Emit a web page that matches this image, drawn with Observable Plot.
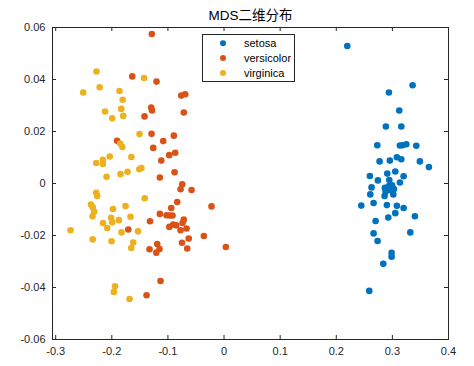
<!DOCTYPE html>
<html><head><meta charset="utf-8">
<script src="https://cdn.jsdelivr.net/npm/d3@7"></script>
<script src="https://cdn.jsdelivr.net/npm/@observablehq/plot@0.6"></script>
<style>body{margin:0;background:#fff}</style>
</head><body><div id="chart"></div>
<script>
const title = "MDS二维分布";
const species = ["setosa", "versicolor", "virginica"];
const colors = ["#0072BD", "#D95319", "#EDB120"];
const xTicks = [-0.3, -0.2, -0.1, 0, 0.1, 0.2, 0.3, 0.4];
const yTicks = [-0.06, -0.04, -0.02, 0, 0.02, 0.04, 0.06];

const setosaX = [0.2196,0.3360,0.2938,0.3123,0.2884,0.3159,0.2731,0.3134,0.3182,0.3248,0.3426,0.2772,0.2955,0.3080,0.3159,0.3490,0.3651,0.2599,0.2909,0.3052,0.3200,0.2742,0.2945,0.3134,0.2629,0.2866,0.2938,0.2995,0.3027,0.2879,0.2968,0.3016,0.2861,0.2606,0.2446,0.2665,0.2902,0.3080,0.3200,0.3052,0.2927,0.3401,0.2701,0.2665,0.3319,0.2736,0.2986,0.2986,0.2838,0.2588];
const setosaY = [0.0529,0.0378,0.0350,0.0281,0.0219,0.0219,0.0147,0.0146,0.0147,0.0151,0.0145,0.0085,0.0088,0.0101,0.0093,0.0085,0.0063,0.0029,0.0038,0.0046,0.0028,0.0012,0.0013,0.0004,-0.0015,-0.0017,-0.0010,-0.0007,-0.0021,-0.0032,-0.0026,-0.0042,-0.0048,-0.0042,-0.0085,-0.0075,-0.0083,-0.0086,-0.0094,-0.0114,-0.0131,-0.0126,-0.0144,-0.0192,-0.0188,-0.0221,-0.0267,-0.0282,-0.0309,-0.0413];

const versicolorX = [-0.1287,-0.1636,-0.1203,-0.0763,-0.0692,-0.1298,-0.1283,-0.1417,-0.0717,-0.1292,-0.0895,-0.1084,-0.1262,-0.0977,-0.0870,-0.1118,-0.1907,-0.0882,-0.1144,-0.0745,-0.0775,-0.0579,-0.0834,-0.0941,-0.0223,-0.1144,-0.1025,-0.0966,-0.0918,-0.1319,-0.0717,-0.0740,-0.0975,-0.0906,-0.0852,-0.0775,-0.0668,-0.0360,-0.0629,-0.0749,-0.0656,0.0032,-0.1191,-0.1150,-0.1207,-0.1328,-0.1706,-0.1132,-0.1381];
const versicolorY = [0.0575,0.0412,0.0392,0.0338,0.0343,0.0292,0.0281,0.0258,0.0273,0.0191,0.0184,0.0163,0.0137,0.0109,0.0118,0.0088,0.0164,0.0043,0.0023,-0.0003,-0.0022,-0.0025,-0.0071,-0.0094,-0.0088,-0.0117,-0.0122,-0.0123,-0.0123,-0.0145,-0.0139,-0.0152,-0.0167,-0.0158,-0.0161,-0.0180,-0.0173,-0.0202,-0.0212,-0.0228,-0.0250,-0.0244,-0.0233,-0.0252,-0.0266,-0.0253,-0.0177,-0.0375,-0.0430];

const virginicaX = [-0.2273,-0.1426,-0.2510,-0.2216,-0.1863,-0.1806,-0.2121,-0.1832,-0.1993,-0.1797,-0.1506,-0.1850,-0.1813,-0.2037,-0.1652,-0.2278,-0.2160,-0.2160,-0.1474,-0.1510,-0.1720,-0.1845,-0.2094,-0.2278,-0.2260,-0.1414,-0.2371,-0.2340,-0.2314,-0.2344,-0.1979,-0.1756,-0.1667,-0.2011,-0.1993,-0.1875,-0.2157,-0.2082,-0.2736,-0.1533,-0.1827,-0.2340,-0.2005,-0.1619,-0.1654,-0.1943,-0.1964,-0.1684];
const virginicaY = [0.0431,0.0406,0.0350,0.0370,0.0356,0.0322,0.0277,0.0287,0.0251,0.0260,0.0190,0.0154,0.0140,0.0104,0.0102,0.0079,0.0091,0.0075,0.0059,0.0055,0.0045,0.0036,0.0026,-0.0036,-0.0048,-0.0057,-0.0081,-0.0092,-0.0109,-0.0126,-0.0098,-0.0087,-0.0128,-0.0132,-0.0149,-0.0141,-0.0152,-0.0171,-0.0180,-0.0184,-0.0188,-0.0215,-0.0222,-0.0227,-0.0248,-0.0395,-0.0417,-0.0444];

const seriesX = [setosaX, versicolorX, virginicaX];
const seriesY = [setosaY, versicolorY, virginicaY];
const rows = [];
species.forEach((s, i) => seriesX[i].forEach((x, j) => rows.push({x, y: seriesY[i][j], species: s})));

const fmt = d => d === 0 ? "0" : String(+d.toFixed(2));
const ink = "#262626";

const chart = Plot.plot({
  width: 474, height: 366,
  marginLeft: 52, marginRight: 26, marginTop: 27, marginBottom: 27,
  style: {fontFamily: "'Liberation Sans', Arial, 'Noto Sans CJK SC', sans-serif", fontSize: "11px", color: ink, background: "#fff"},
  x: {domain: [-0.3057, 0.4], label: null},
  y: {domain: [-0.06, 0.06], label: null},
  color: {domain: species, range: colors},
  marks: [
    Plot.axisX(xTicks, {tickSize: 0, tickPadding: 8, tickFormat: fmt, label: null}),
    Plot.axisY(yTicks, {tickSize: 0, tickPadding: 7, tickFormat: fmt, label: null}),
    Plot.tickX(xTicks, {x: d => d, insetTop: 308, stroke: ink}),
    Plot.tickX(xTicks, {x: d => d, insetBottom: 308, stroke: ink}),
    Plot.tickY(yTicks, {y: d => d, insetRight: 392, stroke: ink}),
    Plot.tickY(yTicks, {y: d => d, insetLeft: 392, stroke: ink}),
    Plot.dot(rows, {x: "x", y: "y", fill: "species", r: 3.3}),
    Plot.frame({stroke: ink}),
    Plot.text([title], {frameAnchor: "top", lineAnchor: "middle", dy: -12, fontSize: 13.5, fill: "#000", fontFamily: "'Liberation Sans', 'Noto Sans CJK SC', sans-serif"})
  ]
});

const svg = d3.select(chart);
const g = svg.append("g").style("font-size", "11px").attr("text-anchor", "start");
g.append("rect").attr("x", 202.5).attr("y", 34.5).attr("width", 92).attr("height", 47)
  .attr("fill", "#fff").attr("stroke", ink);
species.forEach((s, i) => {
  const cy = 43.3 + i * 14.8;
  g.append("circle").attr("cx", 223).attr("cy", cy).attr("r", 3).attr("fill", colors[i]);
  g.append("text").attr("x", 244).attr("y", cy).attr("dy", "0.35em").attr("text-anchor", "start").attr("fill", "#000").text(s);
});

document.getElementById("chart").append(chart);
</script>
</body></html>
